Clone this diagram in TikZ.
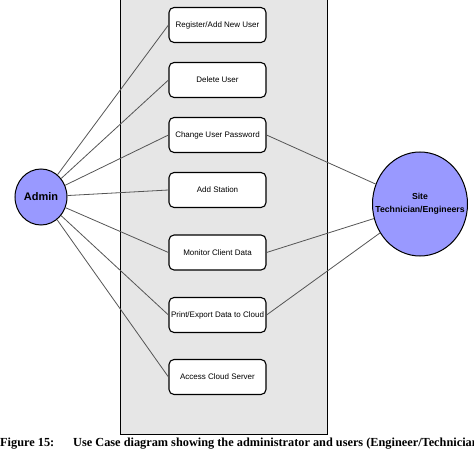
\documentclass[tikz,border=0pt]{standalone}
\usepackage{fontspec}
\setmainfont{Liberation Sans}
\newfontfamily\capfont{Liberation Serif}
\usetikzlibrary{shapes.geometric}
\definecolor{sysgray}{RGB}{230,230,230}
\definecolor{actorfill}{RGB}{153,153,255}
\definecolor{conncol}{RGB}{85,85,85}
\tikzset{
  usecase/.style={draw=black, fill=white, rounded corners=5pt, line width=1.1pt,
    minimum width=97pt, minimum height=35pt, inner sep=1pt,
    font=\fontsize{8}{9.6}\selectfont},
  actor/.style={ellipse, draw=black, fill=actorfill, line width=1pt, inner sep=0pt, align=center},
  conn/.style={draw=conncol, line width=0.8pt},
  sysbox/.style={fill=sysgray, draw=black, line width=1pt},
  captxt/.style={font=\capfont\bfseries\fontsize{12.3}{14}\selectfont, inner sep=0pt, anchor=base west}
}
\begin{document}
\begin{tikzpicture}[x=1pt,y=-1pt]
\useasboundingbox (0,0) rectangle (474,449);
\clip (0,0) rectangle (474,449);
\path[sysbox] (120.5,-5) rectangle (327,434);
\node[usecase] (b1) at (217.5,25) {Register/Add New User};
\node[usecase] (b2) at (217.5,80) {Delete User};
\node[usecase] (b3) at (217.5,135) {Change User Password};
\node[usecase] (b4) at (217.5,190) {Add Station};
\node[usecase] (b5) at (217.5,252.5) {Monitor Client Data};
\node[usecase] (b6) at (217.5,315) {Print/Export Data to Cloud};
\node[usecase] (b7) at (217.5,377) {Access Cloud Server};
\node[actor, minimum width=52pt, minimum height=56pt, font=\bfseries\fontsize{11}{13}\selectfont] (admin) at (41,197) {Admin};
\node[actor, minimum width=95pt, minimum height=104pt,
  label={[align=center, inner sep=0pt, font=\bfseries\fontsize{8.7}{13}\selectfont]center:Site\\Technician/Engineers}] (site) at (420,204) {};
\foreach \b in {b1,b2,b3,b4,b5,b6,b7} \draw[conn] (admin) -- (\b.west);
\foreach \b in {b3,b5,b6} \draw[conn] (\b.east) -- (site);
\node[captxt] (figlab) at (0,446) {Figure 15:};
\node[captxt] (captext) at (73,446) {Use Case diagram showing the administrator and users (Engineer/Technician};
\end{tikzpicture}
\end{document}
